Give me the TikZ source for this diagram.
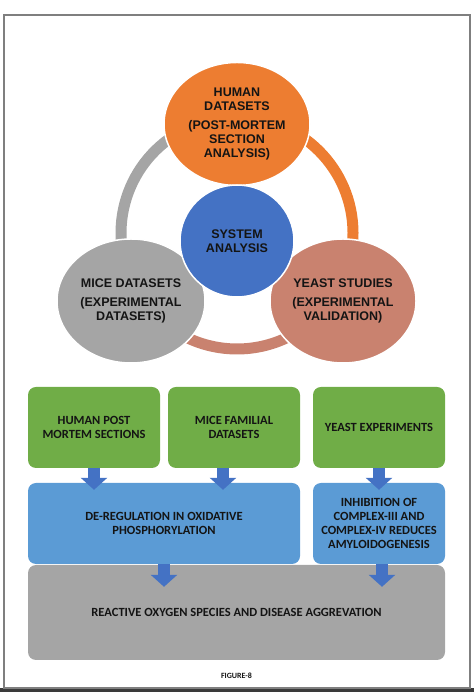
\documentclass[tikz,border=0pt]{standalone}
\usepackage{fontspec}
\setmainfont{Carlito}
\newfontfamily\circfont{Liberation Sans}
\usetikzlibrary{shapes.geometric,arrows.meta}

\definecolor{humanorange}{HTML}{ED7D31}
\definecolor{sysblue}{HTML}{4472C4}
\definecolor{micegray}{HTML}{A5A5A5}
\definecolor{yeastsalmon}{HTML}{C9826F}
\definecolor{boxgreen}{HTML}{70AD47}
\definecolor{boxblue}{HTML}{5B9BD5}
\definecolor{txtdark}{HTML}{141414}
\definecolor{framegray}{HTML}{7F7F7F}
\definecolor{bardark}{HTML}{3A3A3A}

\begin{document}
\begin{tikzpicture}[x=1pt, y=1pt]
            \tikzstyle{blob}=[ellipse,draw=white,line width=1.5pt,inner sep=0pt,align=center,
                              text=txtdark,font=\circfont\bfseries\fontsize{12.5}{14}\selectfont]
            \tikzstyle{ring}=[line width=11pt]
            \tikzstyle{card}=[rectangle,rounded corners=8pt,inner sep=0pt,align=center,
                              text=txtdark,font=\bfseries\fontsize{12.5}{14}\selectfont]
            \tikzstyle{blockarrow}=[draw=sysblue,line width=12pt,-{Triangle[width=26pt,length=12pt]}]

            \useasboundingbox (0,0) rectangle (474,692);
            \fill[bardark] (0,0) rectangle (474,4);
            \draw[framegray, line width=1.5pt] (4,4) rectangle (470,677);

            % ring behind the circles
            \coordinate (rc) at (237,459);
            \draw[ring, humanorange] (rc) ++(90:116pt)    arc[start angle=90,    end angle=-32.7, radius=116pt];
            \draw[ring, yeastsalmon] (rc) ++(-32.7:116pt) arc[start angle=-32.7, end angle=-147.3, radius=116pt];
            \draw[ring, micegray]    (rc) ++(212.7:116pt) arc[start angle=212.7, end angle=90, radius=116pt];

            \node[blob, fill=humanorange, minimum width=146pt, minimum height=123pt] (human) at (237,568)
                {HUMAN\\DATASETS\\[5pt](POST-MORTEM\\SECTION\\ANALYSIS)};
            \node[blob, fill=micegray, minimum width=148pt, minimum height=124pt] (mice) at (131,391)
                {MICE DATASETS\\[5pt](EXPERIMENTAL\\DATASETS)};
            \node[blob, fill=yeastsalmon, minimum width=146pt, minimum height=124pt] (yeast) at (343,391)
                {YEAST STUDIES\\[5pt](EXPERIMENTAL\\VALIDATION)};
            \node[blob, fill=sysblue, minimum width=114pt, minimum height=112pt] (system) at (237,451)
                {SYSTEM\\ANALYSIS};

            % boxes
            \node[card, fill=boxgreen, minimum width=132pt, minimum height=81pt] (hpost) at (94,264.5)
                {HUMAN POST\\MORTEM SECTIONS};
            \node[card, fill=boxgreen, minimum width=132pt, minimum height=81pt] (mfam) at (234,264.5)
                {MICE FAMILIAL\\DATASETS};
            \node[card, fill=boxgreen, minimum width=132pt, minimum height=81pt] (yexp) at (379,264.5)
                {YEAST EXPERIMENTS};
            \node[card, fill=micegray, minimum width=417pt, minimum height=95pt] (ros) at (236.5,79.5)
                {REACTIVE OXYGEN SPECIES AND DISEASE AGGREVATION};
            \node[card, fill=boxblue, minimum width=272pt, minimum height=81pt] (dereg) at (164,168.5)
                {DE-REGULATION IN OXIDATIVE\\PHOSPHORYLATION};
            \node[card, fill=boxblue, minimum width=132pt, minimum height=81pt] (inhib) at (379,168.5)
                {INHIBITION OF\\COMPLEX-III AND\\COMPLEX-IV REDUCES\\AMYLOIDOGENESIS};

            \draw[blockarrow] (hpost.south) -- ([yshift=-7pt]hpost.south |- dereg.north);
            \draw[blockarrow] ([xshift=-11pt]mfam.south) -- ([xshift=-11pt,yshift=-7pt]mfam.south |- dereg.north);
            \draw[blockarrow] (yexp.south) -- ([yshift=-7pt]yexp.south |- inhib.north);
            \draw[blockarrow] (dereg.south) -- ([yshift=-22pt]dereg.south |- ros.north);
            \draw[blockarrow] ([xshift=3pt]inhib.south) -- ([xshift=3pt,yshift=-22pt]inhib.south |- ros.north);

            \node[text=txtdark, font=\bfseries\fontsize{8}{9}\selectfont] (caption) at (236.5,16) {FIGURE-8};
        \end{tikzpicture}
\end{document}
